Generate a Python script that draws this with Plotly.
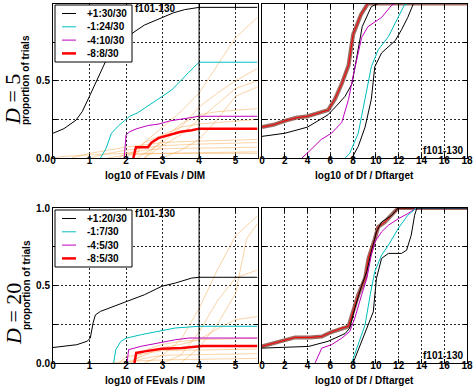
import plotly.graph_objects as go

W, H = 474, 387

# ---------------- data: D = 5, log10(FEvals/DIM) ----------------
d5_fe_k_x = [0, 0.3, 0.63, 0.8, 1.0, 1.17, 1.3, 1.45, 1.6, 1.8, 2.0, 2.2, 2.5, 3.0, 3.3, 3.6, 4.0, 5.6]
d5_fe_k_y = [0.16, 0.19, 0.245, 0.3, 0.40, 0.49, 0.55, 0.63, 0.69, 0.75, 0.78, 0.81, 0.86, 0.91, 0.94, 0.96, 0.975, 0.975]
d5_fe_c_x = [1.3, 1.45, 1.6, 1.8, 1.95, 2.1, 2.3, 2.5, 2.75, 3.0, 3.25, 3.45, 3.7, 4.0, 5.6]
d5_fe_c_y = [0, 0.06, 0.16, 0.21, 0.24, 0.27, 0.29, 0.32, 0.36, 0.40, 0.44, 0.49, 0.55, 0.62, 0.62]
d5_fe_m_x = [1.95, 1.97, 2.0, 2.1, 2.3, 2.6, 2.9, 3.2, 3.45, 3.7, 4.0, 5.6]
d5_fe_m_y = [0, 0.07, 0.15, 0.17, 0.19, 0.21, 0.22, 0.24, 0.25, 0.26, 0.27, 0.27]
d5_fe_r_x = [2.2, 2.27, 2.6, 2.7, 2.9, 3.2, 3.5, 3.8, 4.0, 5.6]
d5_fe_r_y = [0, 0.07, 0.07, 0.10, 0.13, 0.15, 0.17, 0.18, 0.19, 0.19]
d5_single_x = [
    [2.0, 2.5, 3.0, 3.5, 4.0, 4.5, 5.0, 5.6],
    [2.3, 3.0, 3.5, 4.0, 4.5, 5.0, 5.6],
    [2.5, 3.0, 3.5, 4.0, 4.5, 5.0, 5.6],
    [3.0, 3.5, 4.0, 4.5, 5.0, 5.6],
    [0.5, 1.0, 1.5, 2.0, 3.0, 4.0, 5.6],
    [1.0, 1.5, 2.0, 3.0, 4.0, 5.6],
    [1.8, 2.0, 2.5, 3.0, 5.6],
    [1.5, 2.0, 3.0, 5.6],
    [2.2, 2.5, 3.0, 3.5, 4.0, 5.6],
    [0.0, 0.3, 1.0, 2.0, 5.6],
    [2.5, 3.0, 3.5, 4.0, 4.5, 5.6],
]
d5_single_y = [
    [0, 0.1, 0.2, 0.3, 0.42, 0.6, 0.78, 0.91],
    [0, 0.1, 0.2, 0.33, 0.42, 0.5, 0.58],
    [0, 0.08, 0.15, 0.25, 0.35, 0.45, 0.5],
    [0, 0.05, 0.12, 0.25, 0.4, 0.46],
    [0, 0.03, 0.05, 0.07, 0.1, 0.11, 0.12],
    [0, 0.03, 0.05, 0.08, 0.09, 0.1],
    [0, 0.03, 0.05, 0.06, 0.07],
    [0, 0.02, 0.03, 0.04],
    [0, 0.1, 0.15, 0.2, 0.22, 0.25],
    [0, 0.01, 0.02, 0.03, 0.03],
    [0, 0.12, 0.22, 0.28, 0.3, 0.32],
]

# ---------------- data: D = 5, log10(Df/Dftarget) ----------------
d5_df_best_x = [0, 1, 2, 3, 4, 5, 5.8, 6.4, 7.0, 7.6, 8.0, 8.7, 9.3, 18]
d5_df_best_y = [0.2, 0.215, 0.24, 0.26, 0.27, 0.29, 0.31, 0.38, 0.48, 0.6, 0.8, 0.93, 1.0, 1.0]
d5_df_k1_x = [0, 2, 4, 5.8, 6.7, 7.3, 7.9, 8.4, 8.8, 9.6, 10.2, 18]
d5_df_k1_y = [0.14, 0.16, 0.2, 0.28, 0.35, 0.4, 0.48, 0.70, 0.85, 0.98, 1.0, 1.0]
d5_df_m_x = [3.5, 4.1, 5.2, 6.1, 7.0, 7.6, 8.0, 8.75, 9.3, 10.5, 11.4, 11.7, 18]
d5_df_m_y = [0, 0.04, 0.12, 0.16, 0.23, 0.38, 0.53, 0.78, 0.85, 0.91, 0.99, 1.0, 1.0]
d5_df_c_x = [7.3, 7.7, 8.45, 9.05, 9.6, 10.2, 11.1, 11.95, 12.5, 12.8, 18]
d5_df_c_y = [0, 0.03, 0.16, 0.38, 0.59, 0.70, 0.785, 0.91, 0.99, 1.0, 1.0]
d5_df_k2_x = [7.9, 8.45, 9.05, 9.6, 9.9, 10.5, 11.7, 12.25, 12.8, 13.3, 18]
d5_df_k2_y = [0, 0.075, 0.2, 0.38, 0.59, 0.68, 0.76, 0.83, 0.91, 1.0, 1.0]

# ---------------- data: D = 20, log10(FEvals/DIM) ----------------
d20_fe_k_x = [0, 0.65, 0.93, 1.02, 1.1, 1.16, 1.3, 1.6, 2.0, 2.5, 2.98, 3.35, 3.8, 4.0, 5.6]
d20_fe_k_y = [0.10, 0.118, 0.14, 0.16, 0.26, 0.31, 0.333, 0.36, 0.40, 0.44, 0.495, 0.516, 0.548, 0.553, 0.553]
d20_fe_c_x = [1.66, 1.72, 1.86, 2.0, 2.42, 2.88, 3.35, 3.72, 4.0, 5.6]
d20_fe_c_y = [0, 0.086, 0.14, 0.16, 0.183, 0.204, 0.226, 0.232, 0.237, 0.237]
d20_fe_m_x = [2.03, 2.07, 2.42, 2.88, 3.35, 3.72, 4.0, 5.6]
d20_fe_m_y = [0, 0.086, 0.108, 0.129, 0.15, 0.161, 0.161, 0.161]
d20_fe_r_x = [2.23, 2.28, 2.51, 2.98, 3.53, 3.9, 4.1, 5.6]
d20_fe_r_y = [0, 0.065, 0.075, 0.092, 0.097, 0.107, 0.11, 0.11]
d20_single_x = [
    [2.5, 3.0, 3.5, 4.0, 4.5, 5.0, 5.6],
    [3.0, 3.5, 4.0, 4.5, 5.0, 5.6],
    [3.5, 4.0, 4.5, 5.0, 5.3, 5.6],
    [2.0, 2.5, 3.0, 3.5, 4.0, 4.5, 5.0, 5.6],
    [1.8, 2.0, 2.5, 3.0, 5.6],
    [2.1, 2.5, 3.0, 5.6],
    [1.6, 2.0, 3.0, 5.6],
    [2.2, 2.5, 3.0, 3.5, 4.0, 5.6],
]
d20_single_y = [
    [0, 0.05, 0.15, 0.35, 0.6, 0.82, 0.95],
    [0, 0.05, 0.2, 0.4, 0.55, 0.6],
    [0, 0.1, 0.25, 0.45, 0.8, 0.9],
    [0, 0.05, 0.1, 0.12, 0.15, 0.22, 0.28, 0.3],
    [0, 0.04, 0.06, 0.08, 0.09],
    [0, 0.03, 0.05, 0.06],
    [0, 0.01, 0.02, 0.03],
    [0, 0.08, 0.12, 0.14, 0.15, 0.16],
]

# ---------------- data: D = 20, log10(Df/Dftarget) ----------------
d20_df_best_x = [0, 2, 2.9, 4.2, 5.25, 6.1, 7.0, 7.6, 7.9, 8.45, 9.05, 9.35, 9.9, 10.2, 10.8, 11.4, 11.95, 18]
d20_df_best_y = [0.107, 0.15, 0.165, 0.165, 0.171, 0.2, 0.225, 0.236, 0.31, 0.44, 0.546, 0.675, 0.8, 0.878, 0.91, 0.953, 1.0, 1.0]
d20_df_k1_x = [0, 4.1, 5.8, 7.3, 7.7, 8.15, 8.75, 9.2, 9.6, 10.05, 10.5, 11.4, 11.95, 18]
d20_df_k1_y = [0.096, 0.107, 0.14, 0.19, 0.225, 0.353, 0.5, 0.59, 0.717, 0.846, 0.91, 0.953, 1.0, 1.0]
d20_df_m_x = [4.66, 5.25, 6.1, 7.0, 7.7, 8.15, 8.75, 9.2, 9.6, 9.9, 10.5, 11.1, 11.95, 12.8, 13.55, 18]
d20_df_m_y = [0, 0.096, 0.118, 0.16, 0.203, 0.29, 0.44, 0.546, 0.696, 0.78, 0.846, 0.889, 0.93, 0.964, 1.0, 1.0]
d20_df_c_x = [7.87, 8.45, 9.05, 9.5, 9.9, 10.5, 11.1, 11.95, 12.8, 13.55, 18]
d20_df_c_y = [0, 0.118, 0.246, 0.44, 0.59, 0.696, 0.76, 0.867, 0.953, 1.0, 1.0]
d20_df_k2_x = [8.0, 8.75, 9.35, 9.77, 10.05, 10.5, 11.1, 12.25, 12.7, 13.1, 13.4, 13.6, 18]
d20_df_k2_y = [0, 0.14, 0.246, 0.33, 0.546, 0.675, 0.707, 0.707, 0.728, 0.824, 0.953, 1.0, 1.0]

legend_labels_d5 = ["+1:30/30", "-1:24/30", "-4:10/30", "-8:8/30"]
legend_labels_d20 = ["+1:20/30", "-1:7/30", "-4:5/30", "-8:5/30"]
dim_labels = ["5", "20"]
func_label = "f101-130"
fe_ticks = [0, 1, 2, 3, 4, 5]
df_ticks = [0, 2, 4, 6, 8, 10, 12, 14, 16, 18]
y_ticks = [0, 0.25, 0.5, 0.75, 1.0]
y_ticktext = ["0.0", "", "0.5", "", "1.0"]
max_evals_marker = 4

# ---------------- styles ----------------
K = "black"
C = "rgb(0,191,191)"
M = "rgb(191,0,191)"
R = "rgb(255,0,0)"
ORANGE = "rgba(245,170,80,0.5)"
BEST_EDGE = "rgba(140,80,72,0.85)"
FONT = "Liberation Sans"

fig = go.Figure()


def line(x, y, color, width, ax):
    fig.add_trace(go.Scatter(x=x, y=y, mode="lines", line=dict(color=color, width=width),
                             xaxis="x" + ax, yaxis="y" + ax, showlegend=False, hoverinfo="skip"))


for xs, ys in zip(d5_single_x, d5_single_y):
    line(xs, ys, ORANGE, 1, "")
line(d5_fe_k_x, d5_fe_k_y, K, 1, "")
line(d5_fe_c_x, d5_fe_c_y, C, 1, "")
line(d5_fe_m_x, d5_fe_m_y, M, 1, "")
line(d5_fe_r_x, d5_fe_r_y, R, 2.5, "")

line(d5_df_best_x, d5_df_best_y, BEST_EDGE, 4, "2")
line(d5_df_best_x, d5_df_best_y, R, 1, "2")
line(d5_df_k1_x, d5_df_k1_y, K, 1, "2")
line(d5_df_m_x, d5_df_m_y, M, 1, "2")
line(d5_df_c_x, d5_df_c_y, C, 1, "2")
line(d5_df_k2_x, d5_df_k2_y, K, 1, "2")

for xs, ys in zip(d20_single_x, d20_single_y):
    line(xs, ys, ORANGE, 1, "3")
line(d20_fe_k_x, d20_fe_k_y, K, 1, "3")
line(d20_fe_c_x, d20_fe_c_y, C, 1, "3")
line(d20_fe_m_x, d20_fe_m_y, M, 1, "3")
line(d20_fe_r_x, d20_fe_r_y, R, 2.5, "3")

line(d20_df_best_x, d20_df_best_y, BEST_EDGE, 4, "4")
line(d20_df_best_x, d20_df_best_y, R, 1, "4")
line(d20_df_k1_x, d20_df_k1_y, K, 1, "4")
line(d20_df_m_x, d20_df_m_y, M, 1, "4")
line(d20_df_c_x, d20_df_c_y, C, 1, "4")
line(d20_df_k2_x, d20_df_k2_y, K, 1, "4")

# ---------------- layout ----------------
def px(v):
    return v / W


def py(v):
    return 1 - v / H


XL = [px(53), px(257.5)]
XR = [px(262), px(467)]
YT = [py(158), py(3.5)]
YB = [py(363), py(208)]

tickfont = dict(family=FONT, size=10, color="black", weight="bold")
common = dict(showline=True, linecolor="black", linewidth=1, mirror="ticks",
              ticks="inside", ticklen=4, tickcolor="black", automargin=False,
              showgrid=True, gridcolor="rgba(0,0,0,0.85)", griddash="2px,2px", gridwidth=1,
              zeroline=False, tickfont=tickfont, layer="above traces")

def xax(domain, anchor, rng, ticks):
    return dict(domain=domain, anchor=anchor, range=rng, tickvals=ticks,
                ticktext=[str(t) for t in ticks], ticklabelstandoff=-7, **common)

def yax(domain, anchor, labels):
    d = dict(domain=domain, anchor=anchor, range=[0, 1], tickvals=y_ticks, **common)
    if labels:
        d["ticktext"] = y_ticktext
    else:
        d["showticklabels"] = False
    return d

fig.update_layout(
    width=W, height=H, margin=dict(l=0, r=0, t=0, b=0, pad=0),
    paper_bgcolor="white", plot_bgcolor="white", showlegend=False,
    xaxis=xax(XL, "y", [0, 5.6], fe_ticks),
    yaxis=yax(YT, "x", True),
    xaxis2=xax(XR, "y2", [0, 18], df_ticks),
    yaxis2=yax(YT, "x2", False),
    xaxis3=xax(XL, "y3", [0, 5.6], fe_ticks),
    yaxis3=yax(YB, "x3", True),
    xaxis4=xax(XR, "y4", [0, 18], df_ticks),
    yaxis4=yax(YB, "x4", False),
)

shapes = []
annotations = []
lab_font = dict(family=FONT, size=10, color="black", weight="bold")

# max-evals marker
for xr, yr in (("x", "y"), ("x3", "y3")):
    shapes.append(dict(type="line", xref=xr, yref=yr, x0=max_evals_marker, x1=max_evals_marker,
                       y0=0, y1=1, line=dict(color="black", width=1), layer="above"))

# legends
leg_colors = [K, C, M, R]
leg_widths = [1, 1, 1, 2.5]
for labels, top in ((legend_labels_d5, 5), (legend_labels_d20, 210)):
    shapes.append(dict(type="rect", xref="paper", yref="paper", x0=px(55), x1=px(132),
                       y0=py(top + 57), y1=py(top), fillcolor="white",
                       line=dict(color="black", width=1), layer="above"))
    for i, lab in enumerate(labels):
        yc = top + 8.5 + 13.3 * i
        shapes.append(dict(type="line", xref="paper", yref="paper", x0=px(62), x1=px(76),
                           y0=py(yc), y1=py(yc), line=dict(color=leg_colors[i], width=leg_widths[i]),
                           layer="above"))
        annotations.append(dict(xref="paper", yref="paper", x=px(85), y=py(yc), text=lab,
                                showarrow=False, xanchor="left", yanchor="middle", font=lab_font))

# function labels
for yy in (8.5, 213):
    annotations.append(dict(xref="paper", yref="paper", x=px(155), y=py(yy), text=func_label,
                            showarrow=False, xanchor="center", yanchor="middle", font=lab_font))
for yy in (150.5, 355.5):
    annotations.append(dict(xref="paper", yref="paper", x=px(443), y=py(yy), text=func_label,
                            showarrow=False, xanchor="center", yanchor="middle", font=lab_font))

# axis titles
for yy in (175, 380):
    annotations.append(dict(xref="paper", yref="paper", x=px(155), y=py(yy), text="log10 of FEvals / DIM",
                            showarrow=False, xanchor="center", yanchor="middle", font=lab_font))
    annotations.append(dict(xref="paper", yref="paper", x=px(364), y=py(yy), text="log10 of Df / Dftarget",
                            showarrow=False, xanchor="center", yanchor="middle", font=lab_font))
for yy in (80, 285):
    annotations.append(dict(xref="paper", yref="paper", x=px(26), y=py(yy), text="proportion of trials",
                            showarrow=False, textangle=-90, xanchor="center", yanchor="middle", font=lab_font))

# dimension labels
for lab, yy in zip(dim_labels, (100, 314)):
    annotations.append(dict(xref="paper", yref="paper", x=px(13), y=py(yy),
                            text="<i>D</i>&nbsp;=&nbsp;" + lab, showarrow=False, textangle=-90,
                            xanchor="center", yanchor="middle",
                            font=dict(family="Liberation Serif", size=22, color="black")))

fig.update_layout(shapes=shapes, annotations=annotations)
fig.write_html(
    "out.html",
    config={"displayModeBar": False},
    post_script="document.body.style.margin='0px';document.body.style.padding='0px';"
                "document.documentElement.style.overflow='hidden';",
)
